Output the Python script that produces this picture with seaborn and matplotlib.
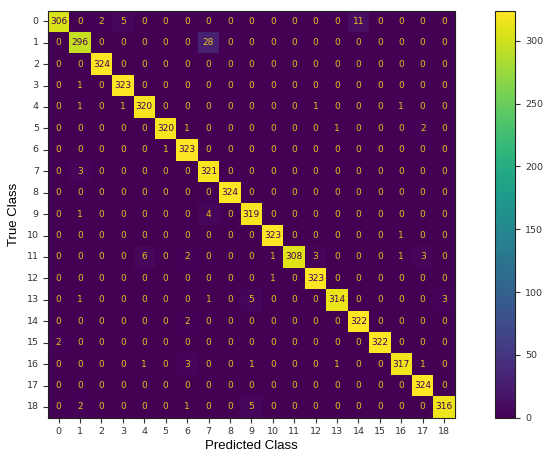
import numpy as np
import pandas as pd
import matplotlib
matplotlib.use("Agg")
import matplotlib.pyplot as plt
import seaborn as sns

# class labels
classes = [str(i) for i in range(19)]

# confusion matrix rows (true class), columns (predicted class)
row_0 = [306, 0, 2, 5, 0, 0, 0, 0, 0, 0, 0, 0, 0, 0, 11, 0, 0, 0, 0]
row_1 = [0, 296, 0, 0, 0, 0, 0, 28, 0, 0, 0, 0, 0, 0, 0, 0, 0, 0, 0]
row_2 = [0, 0, 324, 0, 0, 0, 0, 0, 0, 0, 0, 0, 0, 0, 0, 0, 0, 0, 0]
row_3 = [0, 1, 0, 323, 0, 0, 0, 0, 0, 0, 0, 0, 0, 0, 0, 0, 0, 0, 0]
row_4 = [0, 1, 0, 1, 320, 0, 0, 0, 0, 0, 0, 0, 1, 0, 0, 0, 1, 0, 0]
row_5 = [0, 0, 0, 0, 0, 320, 1, 0, 0, 0, 0, 0, 0, 1, 0, 0, 0, 2, 0]
row_6 = [0, 0, 0, 0, 0, 1, 323, 0, 0, 0, 0, 0, 0, 0, 0, 0, 0, 0, 0]
row_7 = [0, 3, 0, 0, 0, 0, 0, 321, 0, 0, 0, 0, 0, 0, 0, 0, 0, 0, 0]
row_8 = [0, 0, 0, 0, 0, 0, 0, 0, 324, 0, 0, 0, 0, 0, 0, 0, 0, 0, 0]
row_9 = [0, 1, 0, 0, 0, 0, 0, 4, 0, 319, 0, 0, 0, 0, 0, 0, 0, 0, 0]
row_10 = [0, 0, 0, 0, 0, 0, 0, 0, 0, 0, 323, 0, 0, 0, 0, 0, 1, 0, 0]
row_11 = [0, 0, 0, 0, 6, 0, 2, 0, 0, 0, 1, 308, 3, 0, 0, 0, 1, 3, 0]
row_12 = [0, 0, 0, 0, 0, 0, 0, 0, 0, 0, 1, 0, 323, 0, 0, 0, 0, 0, 0]
row_13 = [0, 1, 0, 0, 0, 0, 0, 1, 0, 5, 0, 0, 0, 314, 0, 0, 0, 0, 3]
row_14 = [0, 0, 0, 0, 0, 0, 2, 0, 0, 0, 0, 0, 0, 0, 322, 0, 0, 0, 0]
row_15 = [2, 0, 0, 0, 0, 0, 0, 0, 0, 0, 0, 0, 0, 0, 0, 322, 0, 0, 0]
row_16 = [0, 0, 0, 0, 1, 0, 3, 0, 0, 1, 0, 0, 0, 1, 0, 0, 317, 1, 0]
row_17 = [0, 0, 0, 0, 0, 0, 0, 0, 0, 0, 0, 0, 0, 0, 0, 0, 0, 324, 0]
row_18 = [0, 2, 0, 0, 0, 0, 1, 0, 0, 5, 0, 0, 0, 0, 0, 0, 0, 0, 316]

cm = np.array([row_0, row_1, row_2, row_3, row_4, row_5, row_6, row_7, row_8,
               row_9, row_10, row_11, row_12, row_13, row_14, row_15, row_16,
               row_17, row_18])
df = pd.DataFrame(cm, index=classes, columns=classes)

fig = plt.figure(figsize=(5.5, 4.58), dpi=100)
ax = fig.add_axes([0.087, 0.088, 0.740, 0.889])
cax = fig.add_axes([0.900, 0.088, 0.037, 0.889])

sns.heatmap(df, ax=ax, cbar_ax=cax, cmap="viridis", vmin=0, vmax=cm.max(),
            annot=True, fmt="d", annot_kws={"fontsize": 6.5})

# sklearn-like text colouring: light text on dark cells, dark on bright cells
cmap = plt.get_cmap("viridis")
thresh = (cm.max() + cm.min()) / 2.0
for t in ax.texts:
    val = int(t.get_text())
    t.set_color(cmap(0.0) if val > thresh else "#e8c020")

for s in ax.spines.values():
    s.set_visible(True)
    s.set_linewidth(0.8)
    s.set_color("#222222")

ax.tick_params(axis="both", labelsize=6.8, length=3.5, width=0.8,
               color="#333333", labelcolor="#333333",
               bottom=True, left=True, pad=3)
ax.set_yticklabels(classes, rotation=0)
ax.set_xticklabels(classes, rotation=0)
ax.set_xlabel("Predicted Class", fontsize=9.5, family="Liberation Sans", labelpad=3)
ax.set_ylabel("True Class", fontsize=9.5, family="Liberation Sans", labelpad=5)

cax.set_yticks(range(0, 301, 50))
cax.tick_params(labelsize=6.8, length=3.5, width=0.8, right=True,
                color="#333333", labelcolor="#333333")
cb = ax.collections[0].colorbar
cb.outline.set_visible(True)
cb.outline.set_linewidth(0.8)
cb.outline.set_edgecolor("#222222")

fig.savefig("out.png", dpi=100)
